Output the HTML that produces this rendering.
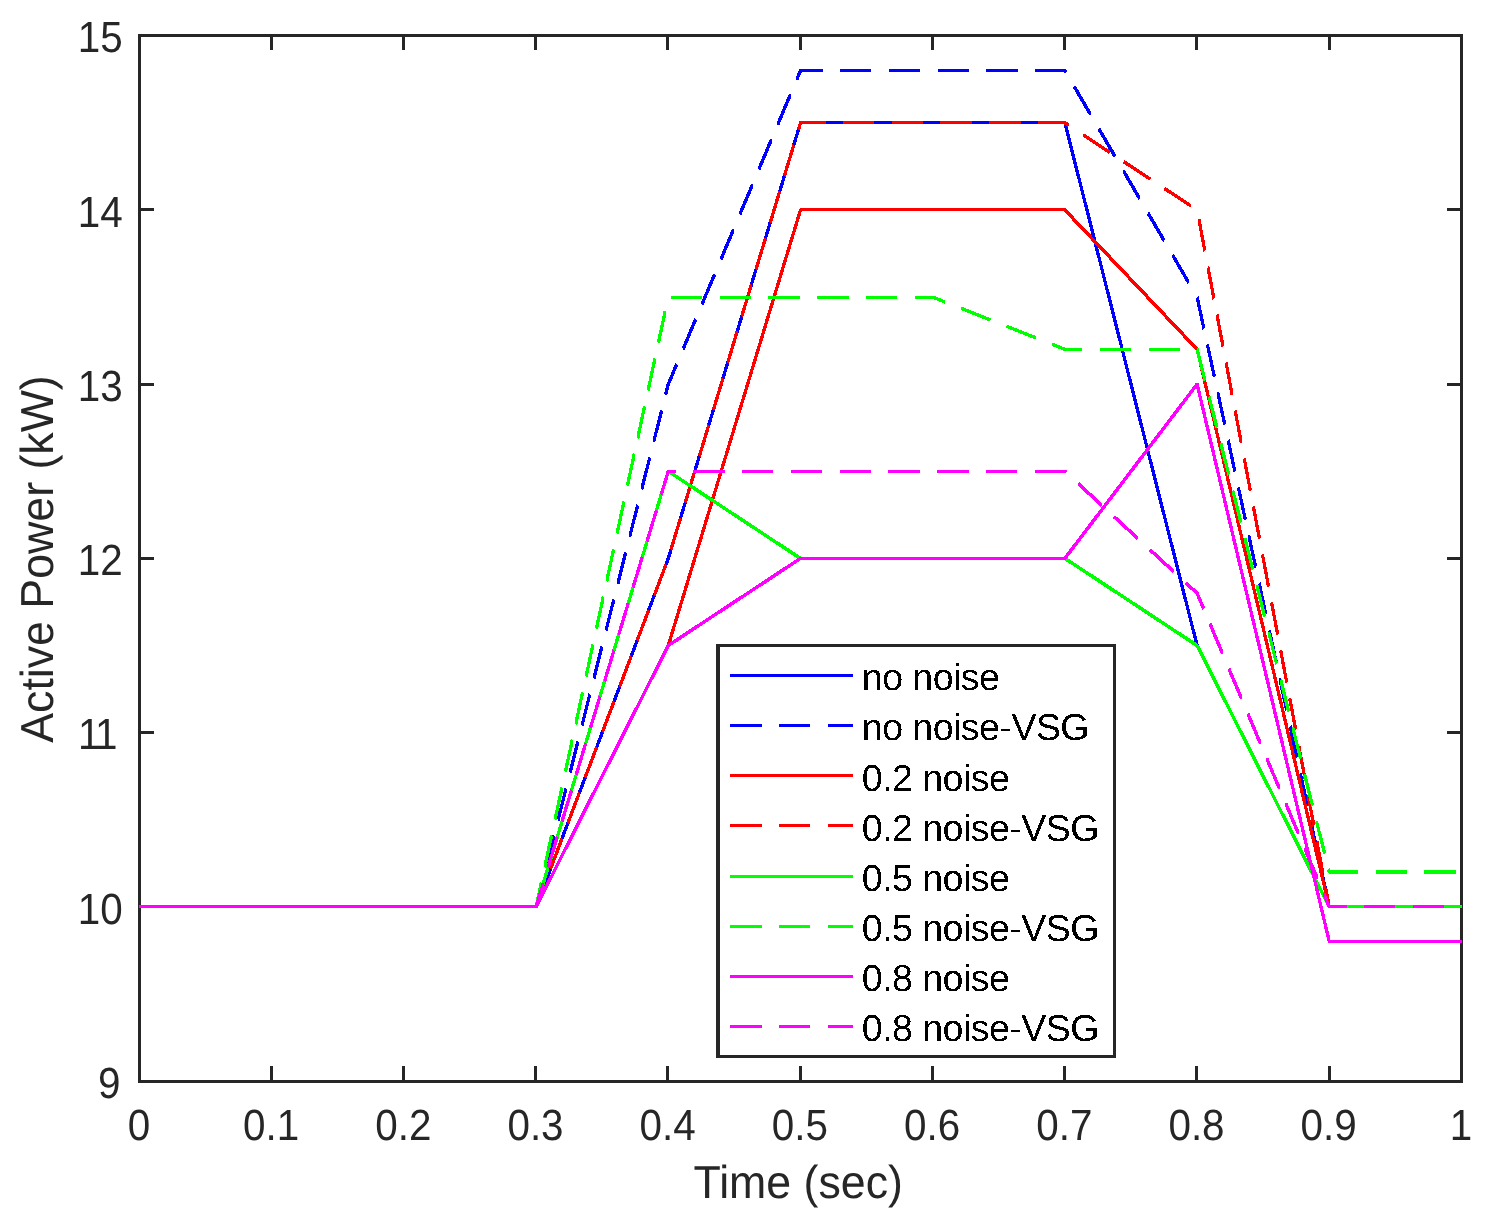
<!DOCTYPE html>
<html lang="en"><head><meta charset="utf-8"><title>Active Power vs Time</title>
<style>html,body{margin:0;padding:0;background:#fff}body{width:1495px;height:1222px}svg{display:block}text{font-family:"Liberation Sans",sans-serif;fill:#262626;text-rendering:geometricPrecision}.t{font-size:41.67px}.l{font-size:44.7px}.g text{font-size:37.5px;fill:#000;letter-spacing:-0.52px}</style></head><body>
<svg width="1495" height="1222" viewBox="0 0 1495 1222">
<rect width="1495" height="1222" fill="#fff"/>
<g fill="#262626" shape-rendering="crispEdges">
<rect x="138" y="34" width="1325" height="3"/>
<rect x="138" y="1080" width="1325" height="3"/>
<rect x="138" y="34" width="3" height="1049"/>
<rect x="1460" y="34" width="3" height="1049"/>
<rect x="270" y="1066" width="3" height="15"/>
<rect x="270" y="36" width="3" height="14"/>
<rect x="402" y="1066" width="3" height="15"/>
<rect x="402" y="36" width="3" height="14"/>
<rect x="534" y="1066" width="3" height="15"/>
<rect x="534" y="36" width="3" height="14"/>
<rect x="666" y="1066" width="3" height="15"/>
<rect x="666" y="36" width="3" height="14"/>
<rect x="799" y="1066" width="3" height="15"/>
<rect x="799" y="36" width="3" height="14"/>
<rect x="931" y="1066" width="3" height="15"/>
<rect x="931" y="36" width="3" height="14"/>
<rect x="1063" y="1066" width="3" height="15"/>
<rect x="1063" y="36" width="3" height="14"/>
<rect x="1195" y="1066" width="3" height="15"/>
<rect x="1195" y="36" width="3" height="14"/>
<rect x="1328" y="1066" width="3" height="15"/>
<rect x="1328" y="36" width="3" height="14"/>
<rect x="140" y="905" width="14" height="3"/>
<rect x="1447" y="905" width="14" height="3"/>
<rect x="140" y="731" width="14" height="3"/>
<rect x="1447" y="731" width="14" height="3"/>
<rect x="140" y="557" width="14" height="3"/>
<rect x="1447" y="557" width="14" height="3"/>
<rect x="140" y="383" width="14" height="3"/>
<rect x="1447" y="383" width="14" height="3"/>
<rect x="140" y="208" width="14" height="3"/>
<rect x="1447" y="208" width="14" height="3"/>
</g>
<g fill="none" stroke-width="2.083" shape-rendering="crispEdges" stroke-linejoin="round" stroke-linecap="butt">
<polyline points="139.000,906.345 271.200,906.345 403.400,906.345 535.600,906.345 667.800,557.895 800.000,122.332 932.200,122.332 1064.400,122.332 1196.600,645.007 1328.800,906.345 1462.000,906.345" stroke="#0000ff"/>
<polyline points="139.000,906.345 272.200,906.345 404.400,906.345 536.600,906.345 668.800,557.895 801.000,122.332 933.200,122.332 1065.400,122.332 1197.600,645.007 1329.800,906.345 1462.000,906.345" stroke="#0000ff"/>
<polyline points="139.000,907.345 271.200,907.345 403.400,907.345 535.600,907.345 667.800,558.895 800.000,123.332 932.200,123.332 1064.400,123.332 1196.600,646.007 1328.800,907.345 1462.000,907.345" stroke="#0000ff"/>
<polyline points="139.000,907.345 272.200,907.345 404.400,907.345 536.600,907.345 668.800,558.895 801.000,123.332 933.200,123.332 1065.400,123.332 1197.600,646.007 1329.800,907.345 1462.000,907.345" stroke="#0000ff"/>
<polyline points="139.000,906.345 271.200,906.345 403.400,906.345 535.600,906.345 667.800,383.670 800.000,70.065 932.200,70.065 1064.400,70.065 1196.600,296.558 1328.800,906.345 1462.000,906.345" stroke="#0000ff" stroke-dasharray="31.4 17.365" stroke-dashoffset="0.5"/>
<polyline points="139.000,906.345 272.200,906.345 404.400,906.345 536.600,906.345 668.800,383.670 801.000,70.065 933.200,70.065 1065.400,70.065 1197.600,296.558 1329.800,906.345 1462.000,906.345" stroke="#0000ff" stroke-dasharray="31.4 17.365" stroke-dashoffset="0.5"/>
<polyline points="139.000,907.345 271.200,907.345 403.400,907.345 535.600,907.345 667.800,384.670 800.000,71.065 932.200,71.065 1064.400,71.065 1196.600,297.558 1328.800,907.345 1462.000,907.345" stroke="#0000ff" stroke-dasharray="31.4 17.365" stroke-dashoffset="0.5"/>
<polyline points="139.000,907.345 272.200,907.345 404.400,907.345 536.600,907.345 668.800,384.670 801.000,71.065 933.200,71.065 1065.400,71.065 1197.600,297.558 1329.800,907.345 1462.000,907.345" stroke="#0000ff" stroke-dasharray="31.4 17.365" stroke-dashoffset="0.5"/>
<polyline points="139.000,906.345 271.200,906.345 403.400,906.345 535.600,906.345 667.800,645.007 800.000,209.445 932.200,209.445 1064.400,209.445 1196.600,348.825 1328.800,906.345 1462.000,906.345" stroke="#ff0000"/>
<polyline points="139.000,906.345 272.200,906.345 404.400,906.345 536.600,906.345 668.800,645.007 801.000,209.445 933.200,209.445 1065.400,209.445 1197.600,348.825 1329.800,906.345 1462.000,906.345" stroke="#ff0000"/>
<polyline points="139.000,907.345 271.200,907.345 403.400,907.345 535.600,907.345 667.800,646.007 800.000,210.445 932.200,210.445 1064.400,210.445 1196.600,349.825 1328.800,907.345 1462.000,907.345" stroke="#ff0000"/>
<polyline points="139.000,907.345 272.200,907.345 404.400,907.345 536.600,907.345 668.800,646.007 801.000,210.445 933.200,210.445 1065.400,210.445 1197.600,349.825 1329.800,907.345 1462.000,907.345" stroke="#ff0000"/>
<polyline points="139.000,906.345 271.200,906.345 403.400,906.345 535.600,906.345 667.800,557.895 800.000,122.332 932.200,122.332 1064.400,122.332 1196.600,209.445 1328.800,906.345 1462.000,906.345" stroke="#ff0000" stroke-dasharray="31.4 17.365" stroke-dashoffset="0.5"/>
<polyline points="139.000,906.345 272.200,906.345 404.400,906.345 536.600,906.345 668.800,557.895 801.000,122.332 933.200,122.332 1065.400,122.332 1197.600,209.445 1329.800,906.345 1462.000,906.345" stroke="#ff0000" stroke-dasharray="31.4 17.365" stroke-dashoffset="0.5"/>
<polyline points="139.000,907.345 271.200,907.345 403.400,907.345 535.600,907.345 667.800,558.895 800.000,123.332 932.200,123.332 1064.400,123.332 1196.600,210.445 1328.800,907.345 1462.000,907.345" stroke="#ff0000" stroke-dasharray="31.4 17.365" stroke-dashoffset="0.5"/>
<polyline points="139.000,907.345 272.200,907.345 404.400,907.345 536.600,907.345 668.800,558.895 801.000,123.332 933.200,123.332 1065.400,123.332 1197.600,210.445 1329.800,907.345 1462.000,907.345" stroke="#ff0000" stroke-dasharray="31.4 17.365" stroke-dashoffset="0.5"/>
<polyline points="139.000,906.345 271.200,906.345 403.400,906.345 535.600,906.345 667.800,470.782 800.000,557.895 932.200,557.895 1064.400,557.895 1196.600,645.007 1328.800,906.345 1462.000,906.345" stroke="#00ff00"/>
<polyline points="139.000,906.345 272.200,906.345 404.400,906.345 536.600,906.345 668.800,470.782 801.000,557.895 933.200,557.895 1065.400,557.895 1197.600,645.007 1329.800,906.345 1462.000,906.345" stroke="#00ff00"/>
<polyline points="139.000,907.345 271.200,907.345 403.400,907.345 535.600,907.345 667.800,471.782 800.000,558.895 932.200,558.895 1064.400,558.895 1196.600,646.007 1328.800,907.345 1462.000,907.345" stroke="#00ff00"/>
<polyline points="139.000,907.345 272.200,907.345 404.400,907.345 536.600,907.345 668.800,471.782 801.000,558.895 933.200,558.895 1065.400,558.895 1197.600,646.007 1329.800,907.345 1462.000,907.345" stroke="#00ff00"/>
<polyline points="139.000,906.345 271.200,906.345 403.400,906.345 535.600,906.345 667.800,296.558 800.000,296.558 932.200,296.558 1064.400,348.825 1196.600,348.825 1328.800,871.500 1462.000,871.500" stroke="#00ff00" stroke-dasharray="31.4 17.365" stroke-dashoffset="0.5"/>
<polyline points="139.000,906.345 272.200,906.345 404.400,906.345 536.600,906.345 668.800,296.558 801.000,296.558 933.200,296.558 1065.400,348.825 1197.600,348.825 1329.800,871.500 1462.000,871.500" stroke="#00ff00" stroke-dasharray="31.4 17.365" stroke-dashoffset="0.5"/>
<polyline points="139.000,907.345 271.200,907.345 403.400,907.345 535.600,907.345 667.800,297.558 800.000,297.558 932.200,297.558 1064.400,349.825 1196.600,349.825 1328.800,872.500 1462.000,872.500" stroke="#00ff00" stroke-dasharray="31.4 17.365" stroke-dashoffset="0.5"/>
<polyline points="139.000,907.345 272.200,907.345 404.400,907.345 536.600,907.345 668.800,297.558 801.000,297.558 933.200,297.558 1065.400,349.825 1197.600,349.825 1329.800,872.500 1462.000,872.500" stroke="#00ff00" stroke-dasharray="31.4 17.365" stroke-dashoffset="0.5"/>
<polyline points="139.000,906.345 271.200,906.345 403.400,906.345 535.600,906.345 667.800,645.007 800.000,557.895 932.200,557.895 1064.400,557.895 1196.600,383.670 1328.800,941.190 1462.000,941.190" stroke="#ff00ff"/>
<polyline points="139.000,906.345 272.200,906.345 404.400,906.345 536.600,906.345 668.800,645.007 801.000,557.895 933.200,557.895 1065.400,557.895 1197.600,383.670 1329.800,941.190 1462.000,941.190" stroke="#ff00ff"/>
<polyline points="139.000,907.345 271.200,907.345 403.400,907.345 535.600,907.345 667.800,646.007 800.000,558.895 932.200,558.895 1064.400,558.895 1196.600,384.670 1328.800,942.190 1462.000,942.190" stroke="#ff00ff"/>
<polyline points="139.000,907.345 272.200,907.345 404.400,907.345 536.600,907.345 668.800,646.007 801.000,558.895 933.200,558.895 1065.400,558.895 1197.600,384.670 1329.800,942.190 1462.000,942.190" stroke="#ff00ff"/>
<polyline points="139.000,906.345 271.200,906.345 403.400,906.345 535.600,906.345 667.800,470.782 800.000,470.782 932.200,470.782 1064.400,470.782 1196.600,592.740 1328.800,906.345 1462.000,906.345" stroke="#ff00ff" stroke-dasharray="31.4 17.365" stroke-dashoffset="0.5"/>
<polyline points="139.000,906.345 272.200,906.345 404.400,906.345 536.600,906.345 668.800,470.782 801.000,470.782 933.200,470.782 1065.400,470.782 1197.600,592.740 1329.800,906.345 1462.000,906.345" stroke="#ff00ff" stroke-dasharray="31.4 17.365" stroke-dashoffset="0.5"/>
<polyline points="139.000,907.345 271.200,907.345 403.400,907.345 535.600,907.345 667.800,471.782 800.000,471.782 932.200,471.782 1064.400,471.782 1196.600,593.740 1328.800,907.345 1462.000,907.345" stroke="#ff00ff" stroke-dasharray="31.4 17.365" stroke-dashoffset="0.5"/>
<polyline points="139.000,907.345 272.200,907.345 404.400,907.345 536.600,907.345 668.800,471.782 801.000,471.782 933.200,471.782 1065.400,471.782 1197.600,593.740 1329.800,907.345 1462.000,907.345" stroke="#ff00ff" stroke-dasharray="31.4 17.365" stroke-dashoffset="0.5"/>
</g>
<g class="t" text-anchor="middle">
<text transform="translate(138.9 1140) scale(0.97 1.045)">0</text>
<text transform="translate(271.1 1140) scale(0.97 1.045)">0.1</text>
<text transform="translate(403.3 1140) scale(0.97 1.045)">0.2</text>
<text transform="translate(535.5 1140) scale(0.97 1.045)">0.3</text>
<text transform="translate(667.7 1140) scale(0.97 1.045)">0.4</text>
<text transform="translate(799.9 1140) scale(0.97 1.045)">0.5</text>
<text transform="translate(932.1 1140) scale(0.97 1.045)">0.6</text>
<text transform="translate(1064.3 1140) scale(0.97 1.045)">0.7</text>
<text transform="translate(1196.5 1140) scale(0.97 1.045)">0.8</text>
<text transform="translate(1328.7 1140) scale(0.97 1.045)">0.9</text>
<text transform="translate(1460.9 1140) scale(0.97 1.045)">1</text>
</g>
<g class="t">
<text transform="translate(98.1 1097.6) scale(0.97 1.045)">9</text>
<text transform="translate(77.8 923.9) scale(0.97 1.045)">10</text>
<text transform="translate(78.0 748.84) scale(0.97 1.045)" letter-spacing="-2.5">11</text>
<text transform="translate(77.8 574.84) scale(0.97 1.045)">12</text>
<text transform="translate(77.8 400.84) scale(0.97 1.045)">13</text>
<text transform="translate(77.8 226.84) scale(0.97 1.045)">14</text>
<text transform="translate(77.8 51.9) scale(0.97 1.045)">15</text>
</g>
<text class="l" text-anchor="middle" transform="translate(798.2 1197.8) scale(1 1.035)">Time (sec)</text>
<text class="l" text-anchor="middle" transform="translate(52.9,559) rotate(-90) scale(1 1.035)">Active Power (kW)</text>
<g shape-rendering="crispEdges">
<rect x="716" y="644" width="400" height="414" fill="#fff"/>
<g fill="#262626"><rect x="716" y="644" width="400" height="3"/><rect x="716" y="1055" width="400" height="3"/><rect x="716" y="644" width="4" height="414"/><rect x="1113" y="644" width="3" height="414"/></g>
<g fill="none" stroke-width="3">
<line x1="730" y1="675.5" x2="853" y2="675.5" stroke="#0000ff"/>
<line x1="730.3" y1="725.5" x2="853" y2="725.5" stroke="#0000ff" stroke-dasharray="31.4 17.365"/>
<line x1="730" y1="775.5" x2="853" y2="775.5" stroke="#ff0000"/>
<line x1="730.3" y1="825.5" x2="853" y2="825.5" stroke="#ff0000" stroke-dasharray="31.4 17.365"/>
<line x1="730" y1="876.5" x2="853" y2="876.5" stroke="#00ff00"/>
<line x1="730.3" y1="926.5" x2="853" y2="926.5" stroke="#00ff00" stroke-dasharray="31.4 17.365"/>
<line x1="730" y1="976.5" x2="853" y2="976.5" stroke="#ff00ff"/>
<line x1="730.3" y1="1026.5" x2="853" y2="1026.5" stroke="#ff00ff" stroke-dasharray="31.4 17.365"/>
</g></g>
<defs><filter id="al" x="0" y="0" width="1" height="1" color-interpolation-filters="sRGB"><feComponentTransfer><feFuncA type="discrete" tableValues="0 1"/></feComponentTransfer></filter></defs>
<g class="g" filter="url(#al)">
<text x="861.8" y="690">no noise</text>
<text x="861.8" y="740">no noise-VSG</text>
<text x="861.8" y="791">0.2 noise</text>
<text x="861.8" y="841">0.2 noise-VSG</text>
<text x="861.8" y="891">0.5 noise</text>
<text x="861.8" y="941">0.5 noise-VSG</text>
<text x="861.8" y="991">0.8 noise</text>
<text x="861.8" y="1041">0.8 noise-VSG</text>
</g>
</svg></body></html>
